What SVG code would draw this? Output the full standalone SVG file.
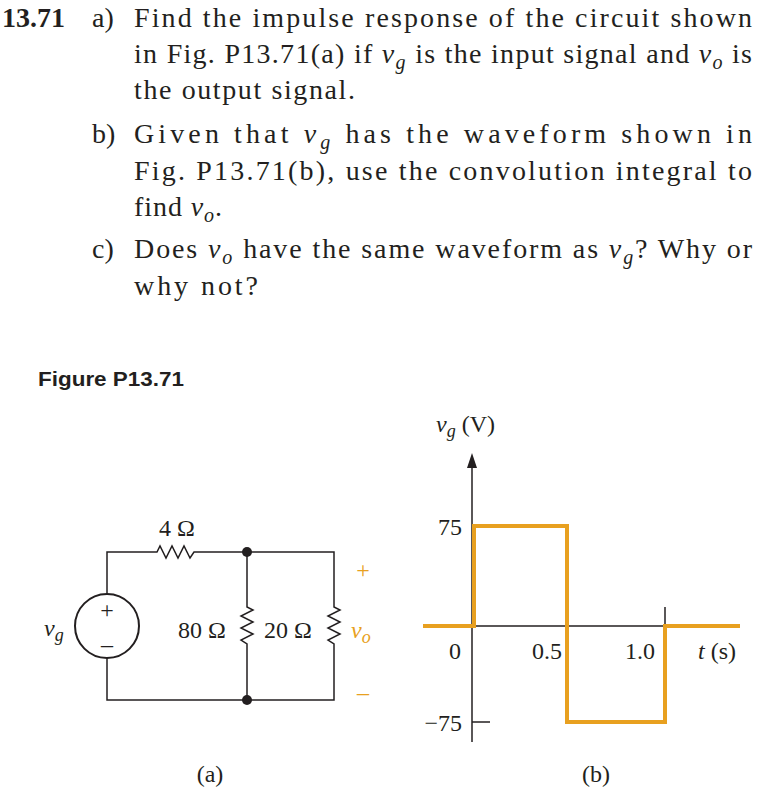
<svg xmlns="http://www.w3.org/2000/svg" width="758" height="792" viewBox="0 0 758 792">
<style>
.w{stroke:#231f20;stroke-width:1.5;fill:none}
.o{stroke:#e8a020;stroke-width:4;fill:none}
</style>
<rect width="758" height="792" fill="#fff"/>
<g id="text" font-family="Liberation Serif, serif" font-size="28" fill="#231f20">
<text x="2" y="27" font-weight="bold">13.71</text>
<text x="92" y="27">a)</text>
<text x="134" y="27" textLength="618" lengthAdjust="spacing">Find the impulse response of the circuit shown</text>
<text x="134" y="63" textLength="618" lengthAdjust="spacing">in Fig. P13.71(a) if <tspan font-style="italic">v</tspan><tspan font-style="italic" font-size="20" dy="6">g</tspan><tspan dy="-6"> is the input signal and </tspan><tspan font-style="italic">v</tspan><tspan font-style="italic" font-size="20" dy="6">o</tspan><tspan dy="-6"> is</tspan></text>
<text x="134" y="99" textLength="221" lengthAdjust="spacing">the output signal.</text>
<text x="92" y="143">b)</text>
<text x="134" y="143" textLength="618" lengthAdjust="spacing">Given that <tspan font-style="italic">v</tspan><tspan font-style="italic" font-size="20" dy="6">g</tspan><tspan dy="-6"> has the waveform shown in</tspan></text>
<text x="134" y="180" textLength="618" lengthAdjust="spacing">Fig. P13.71(b), use the convolution integral to</text>
<text x="134" y="216" textLength="88" lengthAdjust="spacing">find <tspan font-style="italic">v</tspan><tspan font-style="italic" font-size="20" dy="6">o</tspan><tspan dy="-6">.</tspan></text>
<text x="92" y="258">c)</text>
<text x="134" y="258" textLength="618" lengthAdjust="spacing">Does <tspan font-style="italic">v</tspan><tspan font-style="italic" font-size="20" dy="6">o</tspan><tspan dy="-6"> have the same waveform as </tspan><tspan font-style="italic">v</tspan><tspan font-style="italic" font-size="20" dy="6">g</tspan><tspan dy="-6">? Why or</tspan></text>
<text x="134" y="295" textLength="124" lengthAdjust="spacing">why not?</text>
<text x="38" y="386" font-family="Liberation Sans Narrow, Liberation Sans, sans-serif" font-weight="bold" font-size="21" textLength="146" lengthAdjust="spacingAndGlyphs">Figure P13.71</text>
</g>
<g id="circuit" font-family="Liberation Serif, serif" font-size="24" fill="#231f20">
<path class="w" d="M107 594V552H157l3-6 6 12 6-12 6 12 6-12 6 12 4-6H334V607l6 3-12 6 12 6-12 6 12 6-12 6 6 4V700H107V658"/>
<path class="w" d="M247 552V607l6 3-12 6 12 6-12 6 12 6-12 6 6 4V700"/>
<circle cx="107" cy="626" r="32" fill="none" stroke="#231f20" stroke-width="2"/>
<circle cx="247" cy="552" r="5" fill="#231f20"/>
<circle cx="247" cy="700" r="5" fill="#231f20"/>
<text x="107" y="618" text-anchor="middle">+</text>
<text x="107" y="652" text-anchor="middle">–</text>
<text x="177" y="536" text-anchor="middle">4 Ω</text>
<text x="44" y="636" font-style="italic">v<tspan font-size="18" dy="5">g</tspan></text>
<text x="178" y="638">80 Ω</text>
<text x="264" y="638">20 Ω</text>
<text x="351" y="638" font-style="italic" fill="#e8a020">v<tspan font-size="18" dy="5">o</tspan></text>
<text x="363" y="578" fill="#e8a020" text-anchor="middle">+</text>
<text x="363" y="700" fill="#e8a020" text-anchor="middle">–</text>
<text x="210" y="782" text-anchor="middle">(a)</text>
</g>
<g id="graph" font-family="Liberation Serif, serif" font-size="24" fill="#231f20">
<line class="w" x1="472" y1="466" x2="472" y2="742"/>
<polygon points="472,453 467,468 477,468" fill="#231f20"/>
<line class="w" x1="472" y1="626" x2="665" y2="626"/>
<line class="w" x1="665" y1="607" x2="665" y2="626"/>
<line class="w" x1="472" y1="722" x2="490" y2="722"/>
<path class="o" d="M423 626H474V526H567V722H665V626H740"/>
<text x="436" y="432" font-style="italic">v<tspan font-size="18" dy="5">g</tspan><tspan font-style="normal" dy="-5"> (V)</tspan></text>
<text x="462" y="535" text-anchor="end">75</text>
<text x="462" y="731" text-anchor="end">−75</text>
<text x="455" y="659" text-anchor="middle">0</text>
<text x="547" y="659" text-anchor="middle">0.5</text>
<text x="640" y="659" text-anchor="middle">1.0</text>
<text x="698" y="659"><tspan font-style="italic">t</tspan> (s)</text>
<text x="596" y="782" text-anchor="middle">(b)</text>
</g>
</svg>
